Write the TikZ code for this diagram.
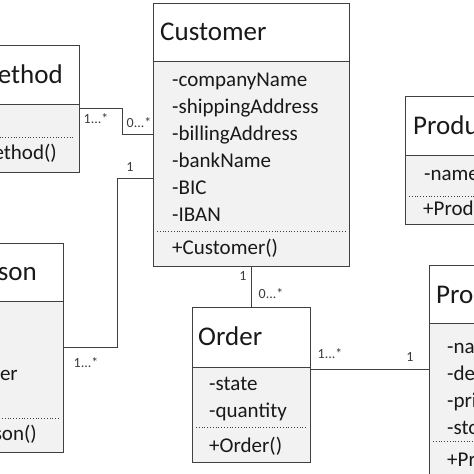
\documentclass[tikz,border=0pt]{standalone}
\usepackage{fontspec}
\setmainfont{Carlito}
\definecolor{umlborder}{RGB}{64,64,64}
\definecolor{umlfill}{RGB}{242,242,242}
\definecolor{umltext}{RGB}{25,25,25}
\definecolor{multtext}{RGB}{60,60,60}
\usetikzlibrary{positioning,calc}

\begin{document}
\begin{tikzpicture}[x=1pt,y=-1pt,
    umlhead/.style={draw=umlborder,line width=1.3pt,fill=white,anchor=north west,inner sep=0pt},
    umlbody/.style={draw=umlborder,line width=1.3pt,fill=umlfill,anchor=north west,inner sep=0pt},
    title/.style={anchor=base west,inner sep=0pt,text=umltext,font=\fontsize{27}{30}\selectfont},
    attr/.style={anchor=base west,inner sep=0pt,text=umltext,font=\fontsize{21}{25}\selectfont},
    mult/.style={inner sep=0pt,text=multtext,font=\fontsize{14}{16}\selectfont},
    sep/.style={dotted,draw=umlborder,line width=0.8pt},
    assoc/.style={draw=umlborder,line width=1pt}]
  \useasboundingbox (0,0) rectangle (474,474);

  % class boxes
  \node[umlhead,minimum width=196pt,minimum height=58pt] (custhead) at (153,3) {};
  \node[umlbody,minimum width=196pt,minimum height=205pt] (custbody) at (153,61) {};
  \node[umlhead,minimum width=159pt,minimum height=59pt] (methhead) at (-80,45) {};
  \node[umlbody,minimum width=159pt,minimum height=68pt] (methbody) at (-80,104) {};
  \node[umlhead,minimum width=163pt,minimum height=58pt] (pershead) at (-100,243) {};
  \node[umlbody,minimum width=163pt,minimum height=151pt] (persbody) at (-100,301) {};
  \node[umlhead,minimum width=118pt,minimum height=60pt] (ordhead) at (192,307) {};
  \node[umlbody,minimum width=118pt,minimum height=95pt] (ordbody) at (192,367) {};
  \node[umlhead,minimum width=160pt,minimum height=59pt] (prdhead) at (405,96) {};
  \node[umlbody,minimum width=160pt,minimum height=69pt] (prdbody) at (405,155) {};
  \node[umlhead,minimum width=160pt,minimum height=58pt] (prodhead) at (429,265) {};
  \node[umlbody,minimum width=160pt,minimum height=180pt] (prodbody) at (429,323) {};

  \draw[sep] (157,231) -- (345,231);
  \draw[sep] (-76,137) -- (75,137);
  \draw[sep] (-96,418) -- (59,418);
  \draw[sep] (196,427) -- (306,427);
  \draw[sep] (409,196) -- (561,196);
  \draw[sep] (433,441) -- (585,441);

  % Customer
  \node[title] (custname) at (160,40) {Customer};
  \foreach \t [count=\i] in {-companyName,-shippingAddress,-billingAddress,-bankName,-BIC,-IBAN}
    \node[attr] (custattr\i) at (172,59+27*\i) {\t};
  \node[attr] (custop) at (172,254) {+Customer()};

  % PaymentMethod
  \node[title,anchor=base east] (methname) at (63,83) {PaymentMethod};
  \node[attr,anchor=base east] (methop) at (57,159) {+PaymentMethod()};

  % Person
  \node[title,anchor=base east] (persname) at (37,280) {Person};
  \node[attr,anchor=base east] (persattr) at (18,380) {-phoneNumber};
  \node[attr,anchor=base east] (persop) at (37,440) {+Person()};

  % Order
  \node[title] (ordname) at (198,345) {Order};
  \node[attr] (ordattr1) at (209,390) {-state};
  \node[attr] (ordattr2) at (209,417) {-quantity};
  \node[attr] (ordop) at (209,452) {+Order()};

  % Producer
  \node[title] (prdname) at (413,134) {Producer};
  \node[attr] (prdattr) at (424,180) {-name};
  \node[attr] (prdop) at (423,215) {+Producer()};

  % Product
  \node[title] (prodname) at (436,303) {Product};
  \foreach \t [count=\i] in {-name,-description,-price,-stock}
    \node[attr] (prodattr\i) at (447,326+27*\i) {\t};
  \node[attr] (prodop) at (447,466) {+Product()};

  % associations
  \draw[assoc] ([yshift=-4pt]methbody.north east) -- ++(42,0) |- ([yshift=-73pt]custbody.north west);
  \draw[assoc] ([yshift=-117pt]custbody.north west) -- ++(-36,0) |- ([yshift=-46pt]persbody.north east);
  \draw[assoc] (custbody.south) -- (ordhead.north);
  \draw[assoc] ([yshift=-2pt]ordbody.north east) -- ([yshift=-46pt]prodbody.north west);

  \node[mult] (m1) at (96,119) {1...*};
  \node[mult] (m2) at (139,123) {0...*};
  \node[mult] (m3) at (130,167) {1};
  \node[mult] (m4) at (86,363) {1...*};
  \node[mult] (m5) at (243,276) {1};
  \node[mult] (m6) at (271,294) {0...*};
  \node[mult] (m7) at (330,354) {1...*};
  \node[mult] (m8) at (410,357) {1};
\end{tikzpicture}
\end{document}
